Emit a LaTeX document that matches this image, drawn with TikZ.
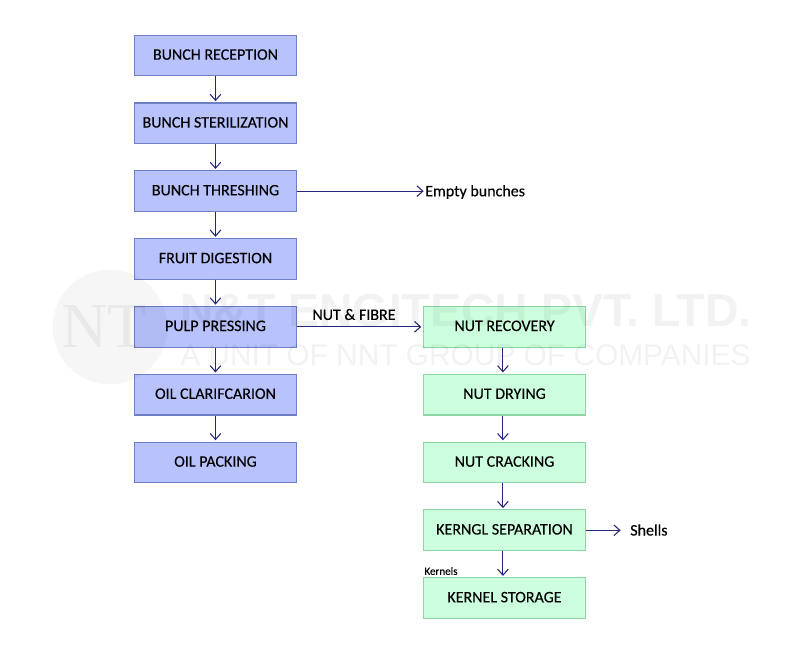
\documentclass[tikz,border=0pt]{standalone}
\usepackage{fontspec}
\setmainfont[FakeBold=0.25]{Carlito}
\newfontfamily\logofont{Liberation Serif}
\newfontfamily\markfont{Liberation Sans}
\usetikzlibrary{arrows.meta}
\definecolor{boxblue}{HTML}{B8C2FC}
\definecolor{lineblue}{HTML}{6F7FC4}
\definecolor{boxgreen}{HTML}{CCFFDD}
\definecolor{linegreen}{HTML}{8CD6A4}
\definecolor{arrownavy}{HTML}{25257A}
\tikzset{
  oilbox/.style={draw=lineblue, fill=boxblue, line width=0.8pt, rectangle, minimum width=122pt, minimum height=30.5pt, inner sep=0pt, text depth=1.5pt, font=\fontsize{12pt}{14pt}\selectfont},
  nutbox/.style={oilbox, draw=linegreen, fill=boxgreen},
  flow/.style={draw=arrownavy, line width=0.8pt, -{Straight Barb[length=4.5pt,width=8pt]}, shorten >=1pt},
  outlabel/.style={inner sep=0pt, font=\fontsize{12pt}{14pt}\selectfont},
}
\begin{document}
\begin{tikzpicture}[x=0.75pt, y=-0.75pt, node distance=50.87pt]
\useasboundingbox (0,0) rectangle (802,654);
\node (reception) [oilbox] at (215.5,55.5) {BUNCH RECEPTION};
\node (sterilization) [oilbox, below of=reception] {BUNCH STERILIZATION};
\node (threshing) [oilbox, below of=sterilization] {BUNCH THRESHING};
\node (digestion) [oilbox, below of=threshing] {FRUIT DIGESTION};
\node (pressing) [oilbox, below of=digestion] {PULP PRESSING};
\node (clarification) [oilbox, below of=pressing] {OIL CLARIFCARION};
\node (packing) [oilbox, below of=clarification] {OIL PACKING};
\node (recovery) [nutbox, right of=pressing, node distance=216.75pt] {NUT RECOVERY};
\node (drying) [nutbox, below of=recovery] {NUT DRYING};
\node (cracking) [nutbox, below of=drying] {NUT CRACKING};
\node (separation) [nutbox, below of=cracking] {KERNGL SEPARATION};
\node (storage) [nutbox, below of=separation] {KERNEL STORAGE};
\node (bunches) [outlabel, anchor=west] at (425,192) {Empty bunches};
\node (shells) [outlabel, anchor=west] at (630,530) {Shells};
\node (kernels) [inner sep=0pt, font=\fontsize{8.3pt}{10pt}\selectfont] at (441,571) {Kernels};
\node (fibre) [outlabel] at (354,314.5) {NUT \& FIBRE};
\draw[flow] (reception) -- (sterilization);
\draw[flow] (sterilization) -- (threshing);
\draw[flow] (threshing) -- (digestion);
\draw[flow] (digestion) -- (pressing);
\draw[flow] (pressing) -- (clarification);
\draw[flow] (clarification) -- (packing);
\draw[flow] (threshing) -- (threshing -| bunches.west);
\draw[flow] (pressing) -- (recovery);
\draw[flow] ([xshift=-1.2pt]recovery.south) -- ([xshift=-1.2pt]drying.north);
\draw[flow] ([xshift=-1.2pt]drying.south) -- ([xshift=-1.2pt]cracking.north);
\draw[flow] ([xshift=-1.2pt]cracking.south) -- ([xshift=-1.2pt]separation.north);
\draw[flow] ([xshift=-1.2pt]separation.south) -- ([xshift=-1.2pt]storage.north);
\draw[flow, shorten >=7pt] (separation) -- (separation -| shells.west);
% watermark
\begin{scope}[opacity=0.035, text opacity=0.05]
\node (wmcircle) [circle, fill=black, minimum size=86pt, inner sep=0pt] at (110,327) {};
\node (wmlogo) [inner sep=0pt, font=\fontsize{48pt}{48pt}\logofont] at (104,327) {NT};
\node (wmname) [inner sep=0pt, anchor=west, font=\fontsize{34.8pt}{40pt}\markfont\bfseries] at (180,311) {N\&T ENGITECH PVT. LTD.};
\node (wmunit) [inner sep=0pt, anchor=west, font=\fontsize{22.4pt}{24pt}\markfont] at (180,355) {A UNIT OF NNT GROUP OF COMPANIES};
\end{scope}
\end{tikzpicture}
\end{document}
